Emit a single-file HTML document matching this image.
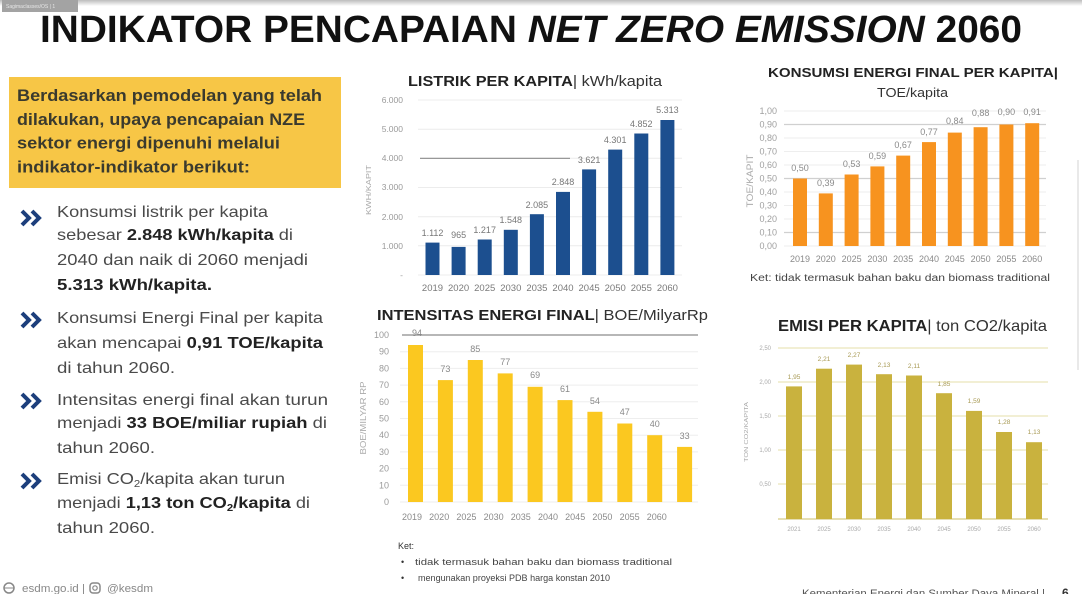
<!DOCTYPE html>
<html><head><meta charset="utf-8"><style>
html,body{margin:0;padding:0;background:#fff;}
svg{display:block;}
text{font-family:"Liberation Sans",Arial,sans-serif;}
</style></head><body>
<svg width="1082" height="594" viewBox="0 0 1082 594" xmlns="http://www.w3.org/2000/svg">
<defs>
<linearGradient id="topg" x1="0" y1="0" x2="0" y2="1"><stop offset="0" stop-color="#bdbdbd"/><stop offset="1" stop-color="#ffffff"/></linearGradient>
</defs>
<rect width="1082" height="594" fill="#fff"/>
<rect x="0" y="0" width="1082" height="6" fill="url(#topg)"/>
<rect x="2" y="0" width="76" height="12" fill="#a3a3a3"/>
<text x="6" y="8" font-size="5" fill="#e6e6e6">Sagimaclasses/OS | 1</text>

<!-- Title -->
<text x="40" y="42" font-size="38" font-weight="bold" fill="#111" textLength="982" lengthAdjust="spacingAndGlyphs">INDIKATOR PENCAPAIAN <tspan font-style="italic">NET ZERO EMISSION</tspan> 2060</text>

<!-- Left panel -->
<rect x="9" y="77" width="332" height="111" fill="#f7c646"/>
<g font-size="17" font-weight="bold" fill="#3a3a2e">
<text x="17" y="101" textLength="305" lengthAdjust="spacingAndGlyphs">Berdasarkan pemodelan yang telah</text>
<text x="17" y="125" textLength="288" lengthAdjust="spacingAndGlyphs">dilakukan, upaya pencapaian NZE</text>
<text x="17" y="148.5" textLength="263" lengthAdjust="spacingAndGlyphs">sektor energi dipenuhi melalui</text>
<text x="17" y="172.5" textLength="233" lengthAdjust="spacingAndGlyphs">indikator-indikator berikut:</text>
</g>

<g fill="none" stroke="#1d3f7c" stroke-width="4" stroke-linecap="butt" stroke-linejoin="miter">
<polyline points="22,211 29,218 22,225"/><polyline points="32,211 39,218 32,225"/>
<polyline points="22,313 29,320 22,327"/><polyline points="32,313 39,320 32,327"/>
<polyline points="22,394 29,401 22,408"/><polyline points="32,394 39,401 32,408"/>
<polyline points="22,474 29,481 22,488"/><polyline points="32,474 39,481 32,488"/>
</g>

<g font-size="16" fill="#4a4a4a">
<text x="57" y="217" textLength="211" lengthAdjust="spacingAndGlyphs">Konsumsi listrik per kapita</text>
<text x="57" y="240" textLength="236" lengthAdjust="spacingAndGlyphs">sebesar <tspan font-weight="bold" fill="#222">2.848 kWh/kapita</tspan> di</text>
<text x="57" y="265" textLength="251" lengthAdjust="spacingAndGlyphs">2040 dan naik di 2060 menjadi</text>
<text x="57" y="290" textLength="155" lengthAdjust="spacingAndGlyphs" font-weight="bold" fill="#222">5.313 kWh/kapita.</text>
<text x="57" y="323" textLength="266" lengthAdjust="spacingAndGlyphs">Konsumsi Energi Final per kapita</text>
<text x="57" y="348" textLength="266" lengthAdjust="spacingAndGlyphs">akan mencapai <tspan font-weight="bold" fill="#222">0,91 TOE/kapita</tspan></text>
<text x="57" y="373" textLength="118" lengthAdjust="spacingAndGlyphs">di tahun 2060.</text>
<text x="57" y="405" textLength="271" lengthAdjust="spacingAndGlyphs">Intensitas energi final akan turun</text>
<text x="57" y="428" textLength="270" lengthAdjust="spacingAndGlyphs">menjadi <tspan font-weight="bold" fill="#222">33 BOE/miliar rupiah</tspan> di</text>
<text x="57" y="453" textLength="98" lengthAdjust="spacingAndGlyphs">tahun 2060.</text>
<text x="57" y="484" textLength="228" lengthAdjust="spacingAndGlyphs">Emisi CO<tspan font-size="10" dy="3">2</tspan><tspan dy="-3">/kapita akan turun</tspan></text>
<text x="57" y="508" textLength="253" lengthAdjust="spacingAndGlyphs">menjadi <tspan font-weight="bold" fill="#222">1,13 ton CO</tspan><tspan font-weight="bold" fill="#222" font-size="10" dy="3">2</tspan><tspan font-weight="bold" fill="#222" dy="-3">/kapita</tspan> di</text>
<text x="57" y="533" textLength="98" lengthAdjust="spacingAndGlyphs">tahun 2060.</text>
</g>

<!-- footer left -->
<circle cx="9" cy="588" r="5" fill="none" stroke="#888" stroke-width="1.5"/>
<line x1="4" y1="588" x2="14" y2="588" stroke="#888" stroke-width="1"/>
<text x="22" y="592" font-size="11" fill="#888" textLength="63" lengthAdjust="spacingAndGlyphs">esdm.go.id |</text>
<rect x="90" y="583" width="10" height="10" rx="3" fill="none" stroke="#888" stroke-width="1.5"/>
<circle cx="95" cy="588" r="2.2" fill="none" stroke="#888" stroke-width="1.2"/>
<text x="107" y="592" font-size="11" fill="#888" textLength="46" lengthAdjust="spacingAndGlyphs">@kesdm</text>

<!-- footer right -->
<text x="802" y="597" font-size="11" fill="#555" textLength="243" lengthAdjust="spacingAndGlyphs">Kementerian Energi dan Sumber Daya Mineral |</text>
<text x="1062" y="597" font-size="12" font-weight="bold" fill="#333">6</text>
<line x1="1078" y1="160" x2="1078" y2="370" stroke="#e2e2e2" stroke-width="1.5"/>

<!-- ===== LISTRIK chart ===== -->
<text x="408" y="86" font-size="15" font-weight="bold" fill="#222" textLength="254" lengthAdjust="spacingAndGlyphs">LISTRIK PER KAPITA<tspan font-weight="normal" fill="#333">| kWh/kapita</tspan></text>
<g stroke="#ececec" stroke-width="1">
<line x1="418" y1="100" x2="682" y2="100"/><line x1="418" y1="129.2" x2="682" y2="129.2"/>
<line x1="418" y1="187.5" x2="682" y2="187.5"/><line x1="418" y1="216.7" x2="682" y2="216.7"/>
<line x1="418" y1="245.8" x2="682" y2="245.8"/><line x1="418" y1="275" x2="682" y2="275"/>
<line x1="570" y1="158.3" x2="682" y2="158.3"/>
</g>
<line x1="420" y1="158.3" x2="570" y2="158.3" stroke="#8a8a8a" stroke-width="1.2"/>
<g font-size="8.5" fill="#9a9a9a" text-anchor="end">
<text x="403" y="103">6.000</text><text x="403" y="132">5.000</text><text x="403" y="161">4.000</text>
<text x="403" y="190">3.000</text><text x="403" y="220">2.000</text><text x="403" y="249">1.000</text><text x="403" y="278">-</text>
</g>
<text transform="translate(371,190) rotate(-90)" font-size="7" fill="#aaa" text-anchor="middle" textLength="50" lengthAdjust="spacingAndGlyphs">KWH/KAPIT</text>
<g fill="#1c4f8f">
<rect x="425.5" y="242.6" width="14" height="32.4"/>
<rect x="451.6" y="246.9" width="14" height="28.1"/>
<rect x="477.7" y="239.5" width="14" height="35.5"/>
<rect x="503.8" y="229.8" width="14" height="45.2"/>
<rect x="529.9" y="214.2" width="14" height="60.8"/>
<rect x="556" y="191.9" width="14" height="83.1"/>
<rect x="582.1" y="169.4" width="14" height="105.6"/>
<rect x="608.2" y="149.6" width="14" height="125.4"/>
<rect x="634.3" y="133.5" width="14" height="141.5"/>
<rect x="660.4" y="120" width="14" height="155"/>
</g>
<g font-size="9" fill="#777" text-anchor="middle">
<text x="432.5" y="236">1.112</text><text x="458.6" y="238">965</text><text x="484.7" y="233">1.217</text>
<text x="510.8" y="223">1.548</text><text x="536.9" y="208">2.085</text><text x="563" y="185">2.848</text>
<text x="589.1" y="163">3.621</text><text x="615.2" y="143">4.301</text><text x="641.3" y="127">4.852</text><text x="667.4" y="113">5.313</text>
</g>
<g font-size="9.5" fill="#7a7a7a" text-anchor="middle">
<text x="432.5" y="291">2019</text><text x="458.6" y="291">2020</text><text x="484.7" y="291">2025</text>
<text x="510.8" y="291">2030</text><text x="536.9" y="291">2035</text><text x="563" y="291">2040</text>
<text x="589.1" y="291">2045</text><text x="615.2" y="291">2050</text><text x="641.3" y="291">2055</text><text x="667.4" y="291">2060</text>
</g>

<!-- ===== KONSUMSI chart ===== -->
<text x="768" y="77" font-size="12.5" font-weight="bold" fill="#222" textLength="290" lengthAdjust="spacingAndGlyphs">KONSUMSI ENERGI FINAL PER KAPITA|</text>
<text x="877" y="97" font-size="13" fill="#333" textLength="71" lengthAdjust="spacingAndGlyphs">TOE/kapita</text>
<g stroke="#eeeeee" stroke-width="1">
<line x1="784" y1="111" x2="1046" y2="111"/><line x1="784" y1="138" x2="1046" y2="138"/>
<line x1="784" y1="151.5" x2="1046" y2="151.5"/><line x1="784" y1="165" x2="1046" y2="165"/>
<line x1="784" y1="192" x2="1046" y2="192"/><line x1="784" y1="205.5" x2="1046" y2="205.5"/>
<line x1="784" y1="219" x2="1046" y2="219"/><line x1="784" y1="246" x2="1046" y2="246"/>
</g>
<g stroke="#d0d0d0" stroke-width="1.2">
<line x1="784" y1="124.5" x2="1046" y2="124.5"/><line x1="784" y1="178.5" x2="1046" y2="178.5"/><line x1="784" y1="232.5" x2="1046" y2="232.5"/>
</g>
<g font-size="9" fill="#a0a0a0" text-anchor="end">
<text x="777" y="114">1,00</text><text x="777" y="127.5">0,90</text><text x="777" y="141">0,80</text>
<text x="777" y="154.5">0,70</text><text x="777" y="168">0,60</text><text x="777" y="181.5">0,50</text>
<text x="777" y="195">0,40</text><text x="777" y="208.5">0,30</text><text x="777" y="222">0,20</text>
<text x="777" y="235.5">0,10</text><text x="777" y="249">0,00</text>
</g>
<text transform="translate(753,181) rotate(-90)" font-size="9" fill="#aaa" text-anchor="middle" textLength="53" lengthAdjust="spacingAndGlyphs">TOE/KAPIT</text>
<g fill="#f7931f">
<rect x="793" y="178.5" width="14" height="67.5"/>
<rect x="818.8" y="193.4" width="14" height="52.6"/>
<rect x="844.6" y="174.5" width="14" height="71.5"/>
<rect x="870.4" y="166.4" width="14" height="79.6"/>
<rect x="896.2" y="155.6" width="14" height="90.4"/>
<rect x="922" y="142.1" width="14" height="103.9"/>
<rect x="947.8" y="132.6" width="14" height="113.4"/>
<rect x="973.6" y="127.2" width="14" height="118.8"/>
<rect x="999.4" y="124.5" width="14" height="121.5"/>
<rect x="1025.2" y="123.2" width="14" height="122.8"/>
</g>
<g font-size="9" fill="#8a8a8a" text-anchor="middle">
<text x="800" y="171">0,50</text><text x="825.8" y="186">0,39</text><text x="851.6" y="167">0,53</text>
<text x="877.4" y="159">0,59</text><text x="903.2" y="148">0,67</text><text x="929" y="135">0,77</text>
<text x="954.8" y="124">0,84</text><text x="980.6" y="116">0,88</text><text x="1006.4" y="115">0,90</text><text x="1032.2" y="115">0,91</text>
</g>
<g font-size="9" fill="#8a8a8a" text-anchor="middle">
<text x="800" y="262">2019</text><text x="825.8" y="262">2020</text><text x="851.6" y="262">2025</text>
<text x="877.4" y="262">2030</text><text x="903.2" y="262">2035</text><text x="929" y="262">2040</text>
<text x="954.8" y="262">2045</text><text x="980.6" y="262">2050</text><text x="1006.4" y="262">2055</text><text x="1032.2" y="262">2060</text>
</g>
<text x="750" y="281" font-size="10" fill="#444" textLength="300" lengthAdjust="spacingAndGlyphs">Ket: tidak termasuk bahan baku dan biomass traditional</text>

<!-- ===== INTENSITAS chart ===== -->
<text x="377" y="320" font-size="14.5" font-weight="bold" fill="#222" textLength="331" lengthAdjust="spacingAndGlyphs">INTENSITAS ENERGI FINAL<tspan font-weight="normal" fill="#333">| BOE/MilyarRp</tspan></text>
<g stroke="#eeeeee" stroke-width="1">
<line x1="400" y1="351.7" x2="698" y2="351.7"/><line x1="400" y1="368.4" x2="698" y2="368.4"/>
<line x1="400" y1="385.1" x2="698" y2="385.1"/><line x1="400" y1="401.8" x2="698" y2="401.8"/>
<line x1="400" y1="418.5" x2="698" y2="418.5"/><line x1="400" y1="435.2" x2="698" y2="435.2"/>
<line x1="400" y1="451.9" x2="698" y2="451.9"/><line x1="400" y1="468.6" x2="698" y2="468.6"/>
<line x1="400" y1="485.3" x2="698" y2="485.3"/><line x1="400" y1="502" x2="698" y2="502"/>
</g>
<line x1="402" y1="335" x2="698" y2="335" stroke="#8c8c8c" stroke-width="1.2"/>
<g font-size="9" fill="#9a9a9a" text-anchor="end">
<text x="389" y="338">100</text><text x="389" y="354.7">90</text><text x="389" y="371.4">80</text>
<text x="389" y="388.1">70</text><text x="389" y="404.8">60</text><text x="389" y="421.5">50</text>
<text x="389" y="438.2">40</text><text x="389" y="454.9">30</text><text x="389" y="471.6">20</text>
<text x="389" y="488.3">10</text><text x="389" y="505">0</text>
</g>
<text transform="translate(366,418) rotate(-90)" font-size="8" fill="#aaa" text-anchor="middle" textLength="73" lengthAdjust="spacingAndGlyphs">BOE/MILYAR RP</text>
<g fill="#fbc820">
<rect x="408" y="345" width="15" height="157"/>
<rect x="437.9" y="380.1" width="15" height="121.9"/>
<rect x="467.8" y="360" width="15" height="142"/>
<rect x="497.7" y="373.4" width="15" height="128.6"/>
<rect x="527.6" y="386.8" width="15" height="115.2"/>
<rect x="557.5" y="400.1" width="15" height="101.9"/>
<rect x="587.4" y="411.8" width="15" height="90.2"/>
<rect x="617.3" y="423.5" width="15" height="78.5"/>
<rect x="647.2" y="435.2" width="15" height="66.8"/>
<rect x="677.1" y="446.9" width="15" height="55.1"/>
</g>
<g font-size="9" fill="#888" text-anchor="middle">
<text x="417" y="336">94</text><text x="445.4" y="372">73</text><text x="475.3" y="352">85</text>
<text x="505.2" y="365">77</text><text x="535.1" y="378">69</text><text x="565" y="392">61</text>
<text x="594.9" y="404">54</text><text x="624.8" y="415">47</text><text x="654.7" y="427">40</text><text x="684.6" y="439">33</text>
</g>
<g font-size="9" fill="#8a8a8a" text-anchor="middle">
<text x="412" y="520">2019</text><text x="439.2" y="520">2020</text><text x="466.4" y="520">2025</text>
<text x="493.6" y="520">2030</text><text x="520.8" y="520">2035</text><text x="548" y="520">2040</text>
<text x="575.2" y="520">2045</text><text x="602.4" y="520">2050</text><text x="629.6" y="520">2055</text><text x="656.8" y="520">2060</text>
</g>
<text x="398" y="549" font-size="9" fill="#333">Ket:</text>
<text x="401" y="565" font-size="9" fill="#333">•</text>
<text x="415" y="565" font-size="9" fill="#444" textLength="257" lengthAdjust="spacingAndGlyphs">tidak termasuk bahan baku dan biomass traditional</text>
<text x="401" y="581" font-size="9" fill="#333">•</text>
<text x="418" y="581" font-size="9" fill="#444" textLength="192" lengthAdjust="spacingAndGlyphs">mengunakan proyeksi PDB harga konstan 2010</text>

<!-- ===== EMISI chart ===== -->
<text x="778" y="331" font-size="16" font-weight="bold" fill="#222" textLength="269" lengthAdjust="spacingAndGlyphs">EMISI PER KAPITA<tspan font-weight="normal" fill="#333">| ton CO2/kapita</tspan></text>
<g stroke="#ebe5ba" stroke-width="1.2">
<line x1="778" y1="348" x2="1048" y2="348"/><line x1="778" y1="382" x2="1048" y2="382"/>
<line x1="778" y1="416" x2="1048" y2="416"/><line x1="778" y1="450" x2="1048" y2="450"/>
<line x1="778" y1="484" x2="1048" y2="484"/>
</g>
<line x1="778" y1="519" x2="1048" y2="519" stroke="#d8cc86" stroke-width="1.2"/>
<g font-size="6" fill="#aaa" text-anchor="end">
<text x="771" y="350">2,50</text><text x="771" y="384">2,00</text><text x="771" y="418">1,50</text>
<text x="771" y="452">1,00</text><text x="771" y="486">0,50</text>
</g>
<text transform="translate(748,432) rotate(-90)" font-size="5.5" fill="#aaa" text-anchor="middle" textLength="60" lengthAdjust="spacingAndGlyphs">TON CO2/KAPITA</text>
<g fill="#c9b23e">
<rect x="786" y="386.4" width="16" height="132.6"/>
<rect x="816" y="368.7" width="16" height="150.3"/>
<rect x="846" y="364.6" width="16" height="154.4"/>
<rect x="876" y="374.2" width="16" height="144.8"/>
<rect x="906" y="375.5" width="16" height="143.5"/>
<rect x="936" y="393.2" width="16" height="125.8"/>
<rect x="966" y="410.9" width="16" height="108.1"/>
<rect x="996" y="432" width="16" height="87"/>
<rect x="1026" y="442.2" width="16" height="76.8"/>
</g>
<g font-size="6.5" fill="#a89a55" text-anchor="middle">
<text x="794" y="379">1,95</text><text x="824" y="361">2,21</text><text x="854" y="357">2,27</text>
<text x="884" y="367">2,13</text><text x="914" y="368">2,11</text><text x="944" y="386">1,85</text>
<text x="974" y="403">1,59</text><text x="1004" y="424">1,28</text><text x="1034" y="434">1,13</text>
</g>
<g font-size="6" fill="#a8a8a8" text-anchor="middle">
<text x="794" y="531">2021</text><text x="824" y="531">2025</text><text x="854" y="531">2030</text>
<text x="884" y="531">2035</text><text x="914" y="531">2040</text><text x="944" y="531">2045</text>
<text x="974" y="531">2050</text><text x="1004" y="531">2055</text><text x="1034" y="531">2060</text>
</g>
</svg>
</body></html>
